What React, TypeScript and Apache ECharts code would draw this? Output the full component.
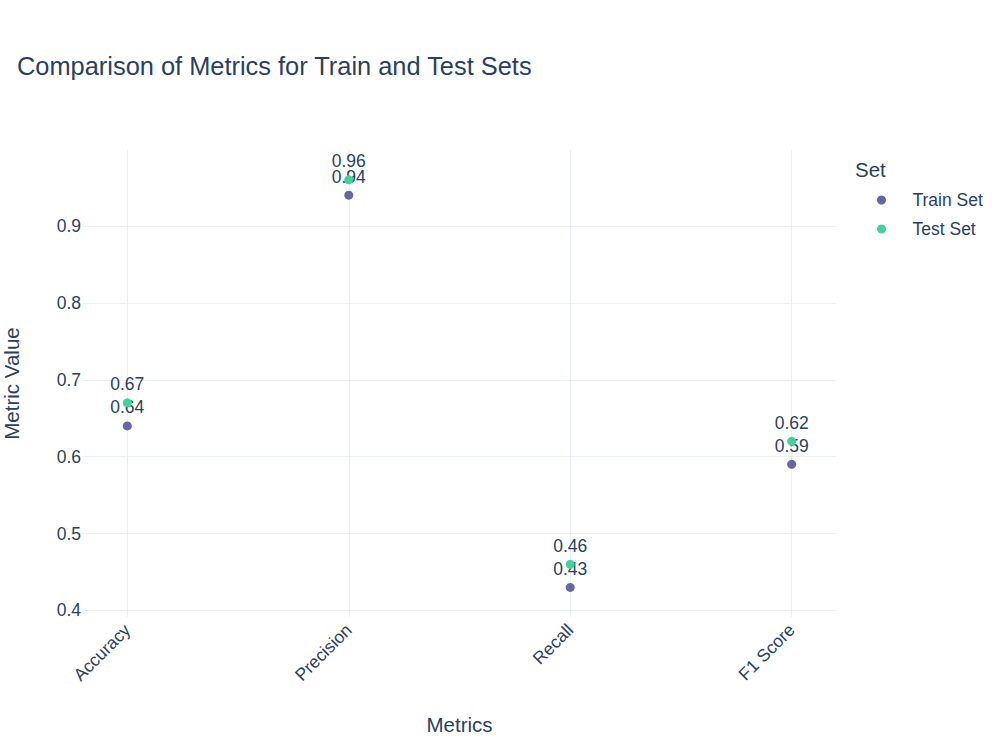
import React, { useEffect, useRef } from "react";
import * as echarts from "echarts";

const categories = ["Accuracy", "Precision", "Recall", "F1 Score"];
const trainValues = [0.64, 0.94, 0.43, 0.59];
const testValues = [0.67, 0.96, 0.46, 0.62];
const yTicks = [0.4, 0.5, 0.6, 0.7, 0.8, 0.9];
const seriesNames = ["Train Set", "Test Set"];

const FONT = "'Liberation Sans', Arial, sans-serif";
const TXT = "#2a3f5f";
const GRID = "#ebf0f8";
const FS = 17.5;

export default function App() {
  const ref = useRef<HTMLDivElement>(null);
  useEffect(() => {
    document.body.style.margin = "0";
    if (!ref.current) return;
    const chart = echarts.init(ref.current, null, { renderer: "svg" });
    const mk = (vals: number[]) => vals.map((v, i) => [i, v]);
    const seriesCommon = (name: string, data: number[], color: string, z: number) => ({
      name,
      type: "scatter",
      data: mk(data),
      symbolSize: 9,
      z,
      itemStyle: { color, opacity: 1 },
      label: {
        show: true,
        position: "top",
        distance: 5,
        formatter: (p: any) => p.value[1].toFixed(2),
        color: TXT,
        fontSize: FS,
        fontFamily: FONT,
      },
      emphasis: { disabled: true },
    });
    chart.setOption({
      animation: false,
      backgroundColor: "#ffffff",
      textStyle: { fontFamily: FONT, color: TXT },
      title: {
        text: "Comparison of Metrics for Train and Test Sets",
        left: 17,
        top: 53,
        padding: 0,
        textStyle: { fontSize: 25.4, fontWeight: "normal", color: TXT, fontFamily: FONT },
      },
      graphic: [
        {
          type: "text",
          left: 855,
          top: 159,
          style: { text: "Set", fontSize: 20.5, fill: TXT, fontFamily: FONT },
        },
      ],
      legend: {
        data: seriesNames,
        orient: "vertical",
        left: 877,
        top: 191,
        padding: 0,
        itemGap: 11,
        itemWidth: 52,
        itemHeight: 9,
        icon: "circle",
        textStyle: { fontSize: FS, color: TXT, fontFamily: FONT },
        selectedMode: false,
      },
      grid: { left: 83, right: 164, top: 150, bottom: 133, containLabel: false, outerBoundsMode: "none" },
      xAxis: {
        type: "value",
        min: -0.2,
        max: 3.2,
        name: "Metrics",
        nameLocation: "middle",
        nameGap: 97,
        nameTextStyle: { fontSize: 20.5, color: TXT, fontFamily: FONT },
        axisLine: { show: false },
        axisTick: { show: false, customValues: [0, 1, 2, 3] },
        splitLine: { show: true, lineStyle: { color: GRID, width: 1 } },
        axisLabel: {
          customValues: [0, 1, 2, 3],
          formatter: (v: number) => categories[Math.round(v)] ?? "",
          rotate: 45,
          margin: 10,
          fontSize: FS,
          color: TXT,
          fontFamily: FONT,
        },
      },
      yAxis: {
        type: "value",
        min: 0.3915,
        max: 0.9988,
        name: "Metric Value",
        nameLocation: "middle",
        nameGap: 61,
        nameTextStyle: { fontSize: 20.5, color: TXT, fontFamily: FONT },
        axisLine: { show: false },
        axisTick: { show: false, customValues: yTicks },
        splitLine: { show: true, lineStyle: { color: GRID, width: 1 } },
        axisLabel: {
          customValues: yTicks,
          formatter: (v: number) => v.toFixed(1),
          margin: 2,
          fontSize: FS,
          color: TXT,
          fontFamily: FONT,
        },
      },
      series: [
        seriesCommon(seriesNames[0], trainValues, "#6566a6", 2),
        seriesCommon(seriesNames[1], testValues, "#40d49b", 3),
      ],
    });
    return () => chart.dispose();
  }, []);
  return <div ref={ref} style={{ width: 1000, height: 750 }} />;
}
